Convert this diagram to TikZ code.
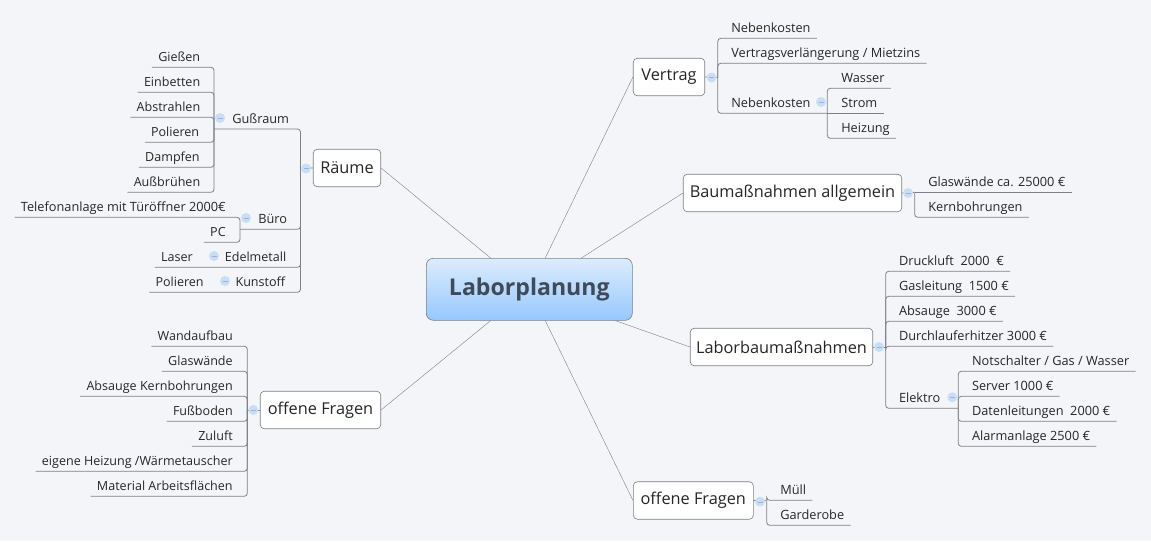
\documentclass[tikz,border=0pt]{standalone}
\usepackage{fontspec}
\setmainfont{Open Sans}
\usepackage{tikz}
\usetikzlibrary{positioning,calc}
\definecolor{pagebg}{HTML}{F3F5F9}
\definecolor{linegray}{HTML}{7C7F85}
\definecolor{foldblue}{HTML}{C9DDF5}
\definecolor{foldminus}{HTML}{93B5E0}
\definecolor{titleink}{HTML}{3F4B5A}
\definecolor{titletop}{HTML}{DCECFD}
\definecolor{titlebot}{HTML}{96C8FE}
\definecolor{leafink}{HTML}{262626}

\begin{document}
\begin{tikzpicture}[x=1pt, y=-1pt, semithick,
      topic/.style={rectangle,draw=linegray,fill=white,rounded corners=4,minimum height=37.5,inner sep=0,text=leafink,font=\fontsize{16.3}{18}\selectfont},
      title/.style={rectangle,draw=linegray,rounded corners=7,top color=titletop,bottom color=titlebot,minimum width=206,minimum height=62,text=titleink,font=\fontsize{23.1}{26}\selectfont\bfseries},
      leafr/.style={anchor=south west,inner xsep=6,inner ysep=2.7,text height=10,text depth=3,text=leafink,font=\fontsize{12.75}{14}\selectfont},
      leafl/.style={leafr,anchor=south east,font=\fontsize{12.55}{14}\selectfont},
      fold/.style={circle,fill=foldblue,minimum size=10,inner sep=0,path picture={\draw[foldminus,thin] ([xshift=-2.5pt]path picture bounding box.center) -- ([xshift=2.5pt]path picture bounding box.center);}},
      link/.style={draw=linegray,thin},
      branch/.style={draw=linegray,line width=0.8pt,rounded corners=3}]
      \fill[pagebg] (0,0) rectangle (1151,541);

      \node[title] at (529.3,289.3) (lab) {Laborplanung};
      \node[topic,minimum width=67.5] at (347,168) (raeume) {Räume};
      \node[topic,minimum width=120.5] at (320.5,410) (fragenl) {offene Fragen};
      \node[topic,minimum width=71.5] at (669,77) (vertrag) {Vertrag};
      \node[topic,minimum width=218.5] at (792.5,193) (bau) {Baumaßnahmen allgemein};
      \node[topic,minimum width=182.5] at (781.5,347) (labor) {Laborbaumaßnahmen};
      \node[topic,minimum width=120] at (693.3,500.5) (fragenr) {offene Fragen};

      \draw[link] (lab.141) -- (raeume.east);
      \draw[link] (lab.-141) -- (fragenl.east);
      \draw[link] (lab.63) -- (vertrag.west);
      \draw[link] (lab.31) -- (bau.west);
      \draw[link] (lab.-20) -- (labor.west);
      \draw[link] (lab.-63) -- (fragenr.west);

      % Raeume
      \coordinate (rtrunk) at (300.5,168.5);
      \coordinate (gtrunk) at (214,129);
      \coordinate (btrunk) at (240,229.3);
      \node[leafl] at (206.5,67.3) (giessen) {Gießen};
      \node[leafl] at (206.5,92.3) (einbetten) {Einbetten};
      \node[leafl] at (206.5,117.3) (abstrahlen) {Abstrahlen};
      \node[leafl] at (205.5,142.3) (polieren) {Polieren};
      \node[leafl] at (206,167.3) (dampfen) {Dampfen};
      \node[leafl] at (206.5,192.3) (ausbruehen) {Außbrühen};
      \node[leafr] at (226,129) (guss) {Gußraum};
      \node[leafl,font=\fontsize{12.75}{14}\selectfont] at (232,217.3) (telefon) {Telefonanlage mit Türöffner 2000€};
      \node[leafl] at (232,242.3) (pc) {PC};
      \node[leafr] at (252,229.3) (buero) {Büro};
      \node[leafl] at (292.5,267.3) (edel) {Edelmetall};
      \node[leafl] at (199,267.3) (laser) {Laser};
      \node[leafl] at (291.5,292.3) (kunst) {Kunstoff};
      \node[leafl] at (210,292.3) (polkunst) {Polieren};
      \draw[branch] (raeume.west) -- (rtrunk);
      \draw[branch] (rtrunk) |- (gtrunk);
      \draw[branch] (rtrunk) |- (btrunk);
      \draw[branch] (rtrunk) |- (laser.south west);
      \draw[branch] (rtrunk) |- (polkunst.south west);
      \foreach \leaf in {giessen,einbetten,abstrahlen,polieren,dampfen,ausbruehen}
        \draw[branch] (gtrunk) |- (\leaf.south west);
      \draw[branch] (btrunk) |- (telefon.south west);
      \draw[branch] (btrunk) |- (pc.south west);
      \node[fold] at (306,168.5) (rfold) {};
      \node[fold] at (220,118) (gfold) {};
      \node[fold] at (246,218) (bfold) {};
      \node[fold] at (214,256) (efold) {};
      \node[fold] at (225,281) (kfold) {};

      % offene Fragen links
      \coordinate (ltrunk) at (247.3,410);
      \node[leafl] at (239,346.3) (wand) {Wandaufbau};
      \node[leafl] at (239,371.3) (glas) {Glaswände};
      \node[leafl] at (239,396.3) (absauge) {Absauge Kernbohrungen};
      \node[leafl] at (239,421.3) (fuss) {Fußboden};
      \node[leafl] at (239,446.3) (zuluft) {Zuluft};
      \node[leafl] at (239,471.3) (heizung) {eigene Heizung /Wärmetauscher};
      \node[leafl] at (239,496.3) (material) {Material Arbeitsflächen};
      \draw[branch] (fragenl.west) -- (ltrunk);
      \foreach \leaf in {wand,glas,absauge,fuss,zuluft,heizung,material}
        \draw[branch] (ltrunk) |- (\leaf.south west);
      \node[fold] at (253.3,410) (lfold) {};

      % Vertrag
      \coordinate (vtrunk) at (717.8,77.5);
      \coordinate (ntrunk) at (827.3,113.3);
      \node[leafr] at (725,38.3) (neben) {Nebenkosten};
      \node[leafr] at (725,63.3) (verlaeng) {Vertragsverlängerung / Mietzins};
      \node[leafr] at (725,113.3) (nebenzwei) {Nebenkosten};
      \node[leafr] at (835,88.3) (wasser) {Wasser};
      \node[leafr] at (835,113.3) (strom) {Strom};
      \node[leafr] at (835,138.3) (heiz) {Heizung};
      \draw[branch] (vertrag.east) -- (vtrunk);
      \draw[branch] (vtrunk) |- (neben.south east);
      \draw[branch] (vtrunk) |- (verlaeng.south east);
      \draw[branch] (vtrunk) |- (ntrunk);
      \draw[branch] (ntrunk) |- (wasser.south east);
      \draw[branch] (ntrunk) -- (strom.south east);
      \draw[branch] (ntrunk) |- (heiz.south east);
      \node[fold] at (711.5,77.5) (vfold) {};
      \node[fold] at (821,102) (nfold) {};

      % Baumassnahmen
      \coordinate (atrunk) at (914.7,192.3);
      \node[leafr] at (922,192.3) (glaswand) {Glaswände ca. 25000 €};
      \node[leafr] at (922,217.3) (kern) {Kernbohrungen};
      \draw[branch] (bau.east) -- (atrunk);
      \draw[branch] (atrunk) -- (glaswand.south east);
      \draw[branch] (atrunk) |- (kern.south east);
      \node[fold] at (908,193) (afold) {};

      % Laborbaumassnahmen
      \coordinate (strunk) at (885.7,347);
      \coordinate (etrunk) at (958.3,408.3);
      \node[leafr] at (892.7,271.3) (druck) {Druckluft~~2000~~€};
      \node[leafr] at (892.7,296.3) (gas) {Gasleitung~~1500 €};
      \node[leafr] at (892.7,321.3) (absaugezwei) {Absauge~~3000 €};
      \node[leafr] at (892.7,346.3) (durchlauf) {Durchlauferhitzer 3000 €};
      \node[leafr] at (892.7,408.3) (elektro) {Elektro};
      \node[leafr] at (965.7,371.3) (not) {Notschalter / Gas / Wasser};
      \node[leafr] at (965.7,396.3) (server) {Server 1000 €};
      \node[leafr] at (965.7,421.3) (daten) {Datenleitungen~~2000 €};
      \node[leafr] at (965.7,446.3) (alarm) {Alarmanlage 2500 €};
      \draw[branch] (labor.east) -- (strunk);
      \foreach \leaf in {druck,gas,absaugezwei,durchlauf}
        \draw[branch] (strunk) |- (\leaf.south east);
      \draw[branch] (strunk) |- (etrunk);
      \foreach \leaf in {not,server,daten,alarm}
        \draw[branch] (etrunk) |- (\leaf.south east);
      \node[fold] at (879,347) (sfold) {};
      \node[fold] at (952.3,397.3) (efoldr) {};

      % offene Fragen rechts
      \coordinate (mtrunk) at (766.7,500.3);
      \node[leafr] at (774,500.3) (muell) {Müll};
      \node[leafr] at (774,525.3) (garderobe) {Garderobe};
      \draw[branch] (fragenr.east) -- (mtrunk);
      \draw[branch] (mtrunk) |- (muell.south east);
      \draw[branch] (mtrunk) |- (garderobe.south east);
      \node[fold] at (760,501.7) (mfold) {};
    \end{tikzpicture}
\end{document}
